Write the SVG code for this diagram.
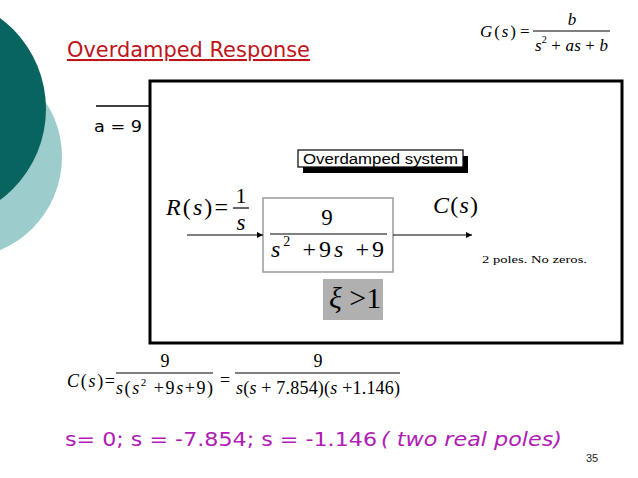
<svg xmlns="http://www.w3.org/2000/svg" width="638" height="478" viewBox="0 0 638 478">
<style>
.m{font-family:"Liberation Serif","Times New Roman",serif;fill:#000}
.i{font-style:italic}
.v{font-family:"DejaVu Sans",Verdana,sans-serif}
</style>
<defs>
<marker id="ah" viewBox="0 0 10 10" refX="10" refY="5" markerWidth="8" markerHeight="6" markerUnits="userSpaceOnUse" orient="auto"><path d="M0,0 L10,5 L0,10 z" fill="#000"/></marker>
</defs>
<rect width="638" height="478" fill="#fff"/>
<g id="decor">
<circle cx="-39" cy="157" r="101" fill="#9ccdcc"/>
<circle cx="-67" cy="109" r="113" fill="#07645f"/>
</g>
<g id="title">
<text class="v" x="67" y="57" font-size="20.5" fill="#c0141c" textLength="243" lengthAdjust="spacingAndGlyphs" text-decoration="underline">Overdamped Response</text>
</g>
<g id="gs-formula" class="m">
<text x="480" y="37" font-size="17" textLength="36"><tspan class="i">G</tspan>(<tspan class="i">s</tspan>)</text>
<text x="520" y="37" font-size="17">=</text>
<text x="572" y="25" font-size="17" class="i" text-anchor="middle">b</text>
<line x1="533" y1="31" x2="610" y2="31" stroke="#000" stroke-width="1"/>
<text x="535" y="51" font-size="17" textLength="73"><tspan class="i">s</tspan><tspan font-size="10" dy="-8">2</tspan><tspan dy="8"> + </tspan><tspan class="i">as</tspan> + <tspan class="i">b</tspan></text>
</g>
<g id="a-label">
<line x1="96" y1="106" x2="150" y2="106" stroke="#000" stroke-width="1.5"/>
<text class="v" x="94" y="132" font-size="16" textLength="48" lengthAdjust="spacingAndGlyphs">a = 9</text>
</g>
<g id="frame">
<rect x="150" y="81" width="472" height="262" fill="#fff" stroke="#000" stroke-width="3"/>
</g>
<g id="overdamped-label">
<rect x="303" y="156" width="165" height="17" fill="#000"/>
<rect x="298" y="150" width="165" height="17" fill="#fff" stroke="#000" stroke-width="1.2"/>
<text x="303" y="163.5" font-family="Liberation Sans,Arial,sans-serif" font-size="14" textLength="155" lengthAdjust="spacingAndGlyphs">Overdamped system</text>
</g>
<g id="input" class="m">
<text x="166" y="215" font-size="24" textLength="62"><tspan class="i">R</tspan>(<tspan class="i">s</tspan>)=</text>
<text x="241" y="203" font-size="22" text-anchor="middle">1</text>
<line x1="233" y1="208" x2="249" y2="208" stroke="#000" stroke-width="1.2"/>
<text x="241" y="230" font-size="23" class="i" text-anchor="middle">s</text>
</g>
<g id="plant">
<rect x="263" y="198" width="130" height="74" fill="#fff" stroke="#9a9a9a" stroke-width="1.5"/>
<text class="m" x="327" y="225" font-size="23" text-anchor="middle">9</text>
<line x1="270" y1="234" x2="387" y2="234" stroke="#000" stroke-width="1.2"/>
<text class="m" x="271" y="257" font-size="24" textLength="113"><tspan class="i">s</tspan><tspan font-size="14" dy="-11">2</tspan><tspan dy="11"> +9</tspan><tspan class="i">s</tspan> +9</text>
</g>
<g id="output" class="m">
<text x="433" y="213" font-size="24" textLength="45"><tspan class="i">C</tspan>(<tspan class="i">s</tspan>)</text>
</g>
<g id="note">
<text class="m" x="482" y="263" font-size="11" fill="#444" textLength="105" lengthAdjust="spacingAndGlyphs">2 poles. No zeros.</text>
</g>
<g id="zeta">
<rect x="323" y="279" width="60" height="41" fill="#b0b0b0"/>
<text class="m" x="329" y="308" font-size="30"><tspan class="i">ξ</tspan> &gt;1</text>
</g>
<g id="connectors" stroke="#000" stroke-width="1.2" fill="none">
<line x1="187" y1="235" x2="263" y2="235" marker-end="url(#ah)"/>
<line x1="393" y1="235" x2="472" y2="235" marker-end="url(#ah)"/>
</g>
<g id="cs-formula" class="m" font-size="18">
<text x="67" y="387" textLength="48"><tspan class="i">C</tspan>(<tspan class="i">s</tspan>)=</text>
<text x="165" y="367" text-anchor="middle">9</text>
<line x1="116" y1="373" x2="213" y2="373" stroke="#000" stroke-width="1"/>
<text x="116" y="394" textLength="97"><tspan class="i">s</tspan>(<tspan class="i">s</tspan><tspan font-size="11" dy="-8">2</tspan><tspan dy="8"> +9</tspan><tspan class="i">s</tspan>+9)</text>
<text x="220" y="386">=</text>
<text x="318" y="367" text-anchor="middle">9</text>
<line x1="235" y1="373" x2="400" y2="373" stroke="#000" stroke-width="1"/>
<text x="236" y="394" textLength="164"><tspan class="i">s</tspan>(<tspan class="i">s</tspan> + 7.854)(<tspan class="i">s</tspan> +1.146)</text>
</g>
<g id="poles" class="v" font-size="19.5" fill="#b01cb5">
<text x="65" y="446" textLength="312" lengthAdjust="spacingAndGlyphs">s= 0; s = -7.854; s = -1.146</text>
<text x="381" y="446" font-style="italic" textLength="181" lengthAdjust="spacingAndGlyphs">( two real poles)</text>
</g>
<g id="page">
<text x="586" y="462" font-family="Liberation Sans,Arial,sans-serif" font-size="11" fill="#222">35</text>
</g>
</svg>
